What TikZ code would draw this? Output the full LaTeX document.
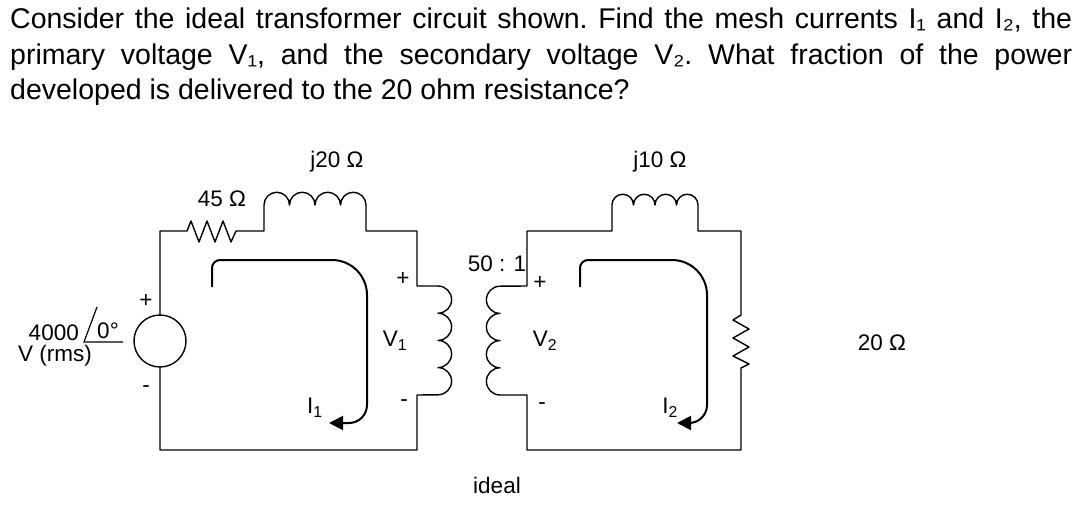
\documentclass[tikz,border=0pt]{standalone}
\usepackage{fontspec}
\setmainfont{Liberation Sans}
\usetikzlibrary{arrows.meta}
\begin{document}
\begin{tikzpicture}[x=1pt,y=-1pt,
  wire/.style={line width=1.4pt,line join=round},
  mesh/.style={line width=2pt},
  lbl/.style={font=\fontsize{22.5}{26}\selectfont,inner sep=0pt}]
\useasboundingbox (0,0) rectangle (1090,506);
\node[anchor=north west,inner sep=0pt,text width=1062pt,align=justify,font=\fontsize{28.5}{35.5}\selectfont] (title) at (10,8)
 {\frenchspacing\hyphenpenalty=10000 Consider the ideal transformer circuit shown. Find the mesh currents I₁ and I₂, the\linebreak primary voltage V₁, and the secondary voltage V₂. What fraction of the power\linebreak developed is delivered to the 20 ohm resistance?};
% primary loop
\draw[wire] (160,315) -- (160,231) -- (187,231) -- (191,221) -- (199,242) -- (207,221) -- (215,242) -- (223,221) -- (231,242) -- (236,231) -- (264,231) -- (264,205)
  arc[start angle=180,end angle=360,radius=12.75] arc[start angle=180,end angle=360,radius=12.75]
  arc[start angle=180,end angle=360,radius=12.75] arc[start angle=180,end angle=360,radius=12.75]
  -- (366,231) -- (417,231) -- (417,286) -- (438,286)
  arc[start angle=-90,end angle=90,radius=13.6] arc[start angle=-90,end angle=90,radius=13.6]
  arc[start angle=-90,end angle=90,radius=13.6] arc[start angle=-90,end angle=90,radius=13.6]
  -- (417,395) -- (417,450) -- (160,450) -- (160,367);
\node[draw,circle,line width=1.4pt,minimum size=52pt,inner sep=0pt] (src) at (160,341) {};
% secondary loop
\draw[wire] (527,231) -- (612,231) -- (612,205)
  arc[start angle=180,end angle=360,radius=10.75] arc[start angle=180,end angle=360,radius=10.75]
  arc[start angle=180,end angle=360,radius=10.75] arc[start angle=180,end angle=360,radius=10.75]
  -- (698,231) -- (741,231) -- (741,315) -- (733,320) -- (749,329) -- (733,338) -- (749,347) -- (733,356) -- (749,364) -- (741,368) -- (741,450) -- (527,450) -- (527,395) -- (500,395)
  arc[start angle=90,end angle=270,radius=13.6] arc[start angle=90,end angle=270,radius=13.6]
  arc[start angle=90,end angle=270,radius=13.6] arc[start angle=90,end angle=270,radius=13.6]
  -- (527,286) -- (527,231);
% mesh arrows
\draw[mesh,-{Triangle[length=14pt,width=14pt]}] (212,287) -- (212,268) arc[start angle=180,end angle=270,radius=8] -- (332,260) arc[start angle=270,end angle=360,radius=35] -- (367,405) arc[start angle=0,end angle=90,radius=18] -- (329,423);
\draw[mesh,-{Triangle[length=14pt,width=14pt]}] (580,287) -- (580,268) arc[start angle=180,end angle=270,radius=8] -- (672,260) arc[start angle=270,end angle=360,radius=35] -- (707,405) arc[start angle=0,end angle=90,radius=18] -- (677,423);
% labels
\node[lbl] (r1) at (222,199) {45 Ω};
\node[lbl] (l1) at (337,162) {j20 Ω};
\node[lbl] (l2) at (660,162) {j10 Ω};
\node[lbl] (r2) at (882,343) {20 Ω};
\node[lbl] (ratio) at (497,264) {50 : 1};
\node[lbl] (ideal) at (497,485) {ideal};
\node[lbl] (v1) at (395,341) {V\textsubscript{1}};
\node[lbl] (v2) at (545,341) {V\textsubscript{2}};
\node[lbl] (i1) at (315,408) {I\textsubscript{1}};
\node[lbl] (i2) at (670,408) {I\textsubscript{2}};
\node[lbl] (sp) at (146,301) {+};
\node[lbl] (sm) at (146,389) {-};
\node[lbl] (p1p) at (403,279) {+};
\node[lbl] (p1m) at (404,403) {-};
\node[lbl] (p2p) at (540,283) {+};
\node[lbl] (p2m) at (542,406) {-};
\node[lbl,anchor=east] (mag) at (79,333) {4000};
\draw[line width=1.2pt] (97,307) -- (84,342) -- (123,342);
\node[lbl] (ang) at (108,331) {0°};
\node[lbl] (rms) at (55,356) {V (rms)};
\end{tikzpicture}
\end{document}
